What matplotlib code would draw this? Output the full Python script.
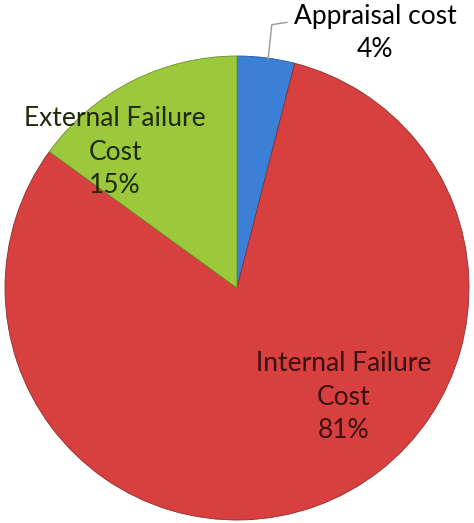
import matplotlib
matplotlib.use("Agg")
import matplotlib.pyplot as plt

# slice data, clockwise from 12 o'clock
labels = ["Appraisal cost", "Internal Failure\nCost", "External Failure\nCost"]
shares = [4, 81, 15]
colors = ["#3c7fd6", "#d83f3f", "#9cc83b"]

plt.rcParams['font.family'] = ['Lato', 'DejaVu Sans']

fig = plt.figure(figsize=(4.74, 5.23), dpi=100)
ax = fig.add_axes([0, 0, 1, 1])

wedges, _ = ax.pie(shares, colors=colors, startangle=90, counterclock=False,
                   radius=1, center=(0, 0),
                   wedgeprops=dict(edgecolor="#8a3030", linewidth=0.6))
wedges[0].set_edgecolor("#2a5a9a")
wedges[2].set_edgecolor("#6f8f2a")

# pixel-matched view: centre at (237, 288), radius 232 px
ax.set_xlim(-237 / 232, (474 - 237) / 232)
ax.set_ylim((288 - 523) / 232, 288 / 232)
ax.set_aspect("auto")
ax.axis("off")

fs = 19
ls = 1.42
ax.text(0.595, 1.10, f"{labels[0]}\n{shares[0]}%", ha="center", va="center",
        fontsize=fs, color="black", linespacing=ls)
ax.text(0.46, -0.47, f"{labels[1]}\n{shares[1]}%", ha="center", va="center",
        fontsize=fs, color="#3a1010", linespacing=ls)
ax.text(-0.525, 0.585, f"{labels[2]}\n{shares[2]}%", ha="center", va="center",
        fontsize=fs, color="#1e2a0a", linespacing=ls)

# leader line for the small slice
ax.plot([0.134, 0.150, 0.215], [0.985, 1.135, 1.145], color="#999999", lw=1)

fig.savefig("out.png", dpi=100, facecolor="white")
